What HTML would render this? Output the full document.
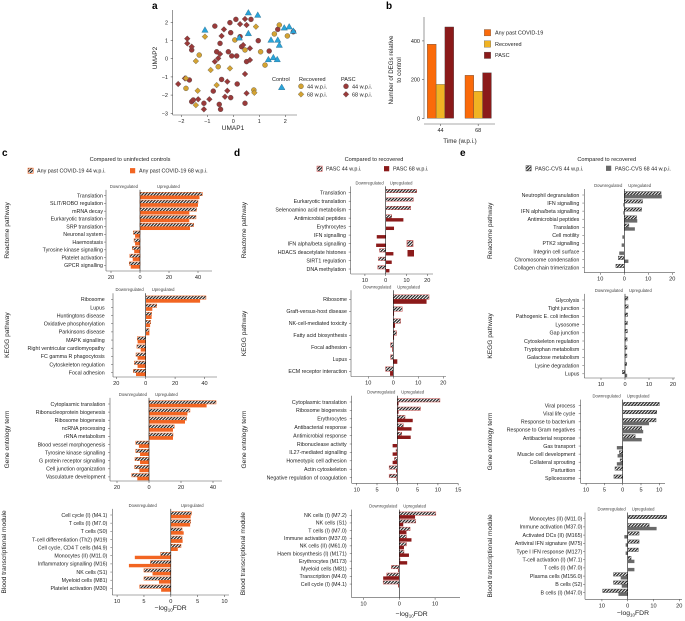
<!DOCTYPE html>
<html><head><meta charset="utf-8">
<style>
body{margin:0;background:#fff;}
svg{display:block;font-family:"Liberation Sans",sans-serif;}
</style></head>
<body>
<svg id="fig" width="685" height="621" viewBox="0 0 685 621" xmlns="http://www.w3.org/2000/svg">
<defs>
<pattern id="hatch" patternUnits="userSpaceOnUse" width="2.2" height="2.2" patternTransform="rotate(45)">
<rect width="2.2" height="2.2" fill="#fff"/><line x1="0.6" y1="0" x2="0.6" y2="2.2" stroke="#222" stroke-width="1.2"/>
</pattern>
</defs>
</svg>
<script>
// ---------- Panel a data (UMAP) ----------
const ctrlX=[0.58,0.94,-1.09,0.23,0.58,1.96,2.15,2.31,1.45,1.71,1.77,1.35,1.54,1.69];
const ctrlY=[2.53,2.40,1.58,1.15,1.39,1.70,1.76,1.52,1.03,1.03,0.75,-0.04,0.07,-0.04];
const rec44X=[1.77,1.58,2.08,-1.31,1.05,0.45,1.22,0.06,-0.58,0.79,-1.82];
const rec44Y=[1.85,1.36,1.25,0.20,0.38,0.48,-0.35,1.03,-0.44,-1.72,-1.63];
const rec68X=[0.87,-1.09,-1.44,-1.82,-0.87,-0.64,-1.44,-1.37,-0.13,0.81];
const rec68Y=[1.76,1.21,-0.13,-1.08,-0.62,-1.45,-2.55,-1.76,-0.53,-1.87];
const pasc44X=[0.10,0.68,-0.13,-0.71,-0.10,0.26,0.96,-0.51,-1.60,0.32,-0.19,-0.64,-0.06,0.13,0.51,1.38,2.31,1.71,-0.45,-1.69,0.15,-0.77,-0.10,-1.60,-1.54,-0.54,-0.49,0.45,-1.13];
const pasc44Y=[2.16,2.16,1.98,1.79,1.43,1.21,0.99,0.84,0.48,0.66,0.38,0.38,0.15,0.15,-0.16,0.42,1.48,1.61,-1.14,-1.17,-1.39,-1.78,-2.14,-2.36,-2.27,-2.51,-2.78,-2.45,-2.45];
const pasc68X=[0.45,0.26,0.51,-0.36,-0.45,-1.77,-1.77,-1.60,0.38,0.64,-0.51,-0.58,-0.71,0.64,0.45,-0.23,-1.86,-2.12,-0.23,-0.32,0.51,-0.92,-1.13,-1.35];
const pasc68Y=[2.18,1.90,1.85,1.61,1.25,1.10,0.84,0.66,0.75,0.57,0.26,0.02,-0.16,-0.07,-0.84,-1.26,-1.08,-1.39,-1.76,-2.09,-1.90,-2.23,-2.78,-2.23];
const umapXTicks=[-2,-1,0,1,2];
const umapYTicks=[2,1,0,-1,-2,-3];
// ---------- Panel b data ----------
const degTimes=["44","68"];
const degAny=[383,222];
const degRec=[175,140];
const degPasc=[472,235];
const degTicks=[0,200,400];
// ---------- Panel c data ----------
const cRLabels=["Translation","SLIT/ROBO regulation","mRNA decay","Eurkaryotic translation","SRP translation","Neuronal system","Haemostasis","Tyrosine kinase signalling","Platelet activation","GPCR signalling"];
const cR44=[43,40,39,38.6,37,-4.6,-4.1,-5.3,-7,-7.4];
const cR68=[41,40,34,34,34.5,-3.4,-3.4,-4,-5,-6.4];
const cRTicks=[-20,0,20,40];
const cKLabels=["Ribosome","Lupus","Huntingtons disease","Oxidative phosphorylation","Parkinsons disease","MAPK signalling","Right ventricular cardiomyopathy","FC gamma R phagocytosis","Cytoskeleton regulation","Focal adhesion"];
const cK44=[41,7.5,4,3.4,2.3,-5.7,-6,-6.6,-7.7,-8.4];
const cK68=[37,4.5,4,3,2.5,-5.5,-3.4,-5.5,-5.5,-6.6];
const cKTicks=[-20,0,20,40];
const cGLabels=["Cytoplasmic translation","Ribonucleoprotein biogenesis","Ribosome biogenesis","ncRNA processing","rRNA metabolism","Blood vessel morphogenesis","Tyrosine kinase signalling","G protein receptor signalling","Cell junction organization","Vasculature development"];
const cG44=[41.9,25.6,23.5,15.8,15,-8.3,-8.3,-8.75,-9,-10.8];
const cG68=[36,24,22.5,15,15,-6.3,-5.6,-5.6,-6,-7.3];
const cGTicks=[-20,0,20,40];
const cBLabels=["Cell cycle (I) (M4.1)","T cells (I) (M7.0)","T cells (S0)","T-cell differentiation (Th2) (M19)","Cell cycle, CD4 T cells (M4.9)","Monocytes (II) (M11.0)","Inflammatory signalling (M16)","NK cells (S1)","Myeloid cells (M81)","Platelet activation (M30)"];
const cB44=[3.85,3.7,2.1,2.1,1.9,-1.9,-3.8,-5,-5,-5.8];
const cB68=[3.7,3.6,2.4,2.2,1.3,-6.7,-7.8,-3.4,-2.2,-1.8];
const cBTicks=[-10,-5,0,5,10];
// ---------- Panel d data ----------
const dRLabels=["Translation","Eurkaryotic translation","Selenoamino acid metabolism","Antimicrobial peptides","Erythrocytes","IFN signalling","IFN alpha/beta signalling","HDACS deacetylate histones","SIRT1 regulation","DNA methylation"];
const dR44=[14.9,13.3,12,2.9,0,0,0,-3,-3.5,-3.8];
const dR68=[0,0,0,8.5,4,-4.3,-4.6,3.7,2.9,1.8];
const dRTicks=[-10,0,10,20];
const dKLabels=["Ribosome","Graft-versus-host disease","NK-cell-mediated toxicity","Fatty acid biosynthesis","Focal adhesion","Lupus","ECM receptor interaction"];
const dK44=[14.3,3.6,2.9,1.3,-1.1,-1.1,-3.1];
const dK68=[13.3,0.3,0.7,0.3,-0.4,1.6,-1.3];
const dKTicks=[-10,0,10,20];
const dGLabels=["Cytoplasmic translation","Ribosome biogenesis","Erythrocytes","Antibacterial response","Antimicrobial response","Ribonuclease activity","IL27-mediated signalling","Homeotypic cell adhesion","Actin cytoskeleton","Negative regulation of coagulation"];
const dG44=[10.5,5.7,1.9,1.5,1.1,0,-0.3,-0.7,-2,-2];
const dG68=[0.3,0.3,3.8,3.5,3.3,-1.15,-1.15,-1.15,-0.3,-0.2];
const dGTicks=[-10,-5,0,5,10,15];
const dBLabels=["NK cells (I) (M7.2)","NK cells (S1)","T cells (I) (M7.0)","Immune activation (M37.0)","NK cells (II) (M61.0)","Haem biosynthesis (I) (M171)","Erythrocytes (M173)","Myeloid cells (M81)","Transcription (M4.0)","Cell cycle (I) (M4.1)"];
const dB44=[10.2,4.6,3,2,2,1.3,0.2,-2.2,-3.5,-4.5];
const dB68=[4.4,1.1,2,3.4,1.3,2.7,2.2,-0.3,-4.5,-0.3];
const dBTicks=[-10,0,10];
// ---------- Panel e data ----------
const eRLabels=["Neutrophil degranulation","IFN signalling","IFN alpha/beta signalling","Antimicrobial peptides","Translation","Cell motility","PTK2 signalling","Integrin cell surface","Chromosome condensation","Collagen chain trimerization"];
const eR44=[15.3,7.6,7.2,5.1,1.9,0,0,0,-2.5,-3.5];
const eR68=[15.6,-0.4,-0.4,5.4,4.4,-0.8,-1.1,-2.1,1.7,0];
const eRTicks=[-10,0,10,20];
const eKLabels=["Glycolysis","Tight junction","Pathogenic E. coli infection","Lysosome","Gap junction","Cytoskeleton regulation","Tryptophan metabolism","Galactose metabolism","Lysine degradation","Lupus"];
const eK44=[1.2,1.3,1.1,1,1,0.9,0.8,0.8,0.7,-1.1];
const eK68=[0.1,0.1,0.1,0.1,0.1,0.1,0.1,0.1,0.1,0.9];
const eKTicks=[-10,0,10,20];
const eGLabels=["Viral process","Viral life cycle","Response to bacterium","Response to Gram negatives","Antibacterial response","Gas transport","Muscle cell development","Collateral sprouting","Parturition","Spliceosome"];
const eG44=[10,9.3,9.1,5.2,3.4,0,-0.9,-0.7,-2.1,-2.4];
const eG68=[0,0,7.2,5.6,5.2,-1.6,-1.4,-1.6,0,0];
const eGTicks=[-10,-5,0,5,10];
const eBLabels=["Monocytes (II) (M11.0)","Immune activation (M37.0)","Activated DCs (II) (M165)","Antiviral IFN signature (M75)","Type I IFN response (M127)","T-cell activation (I) (M7.1)","T cells (I) (M7.0)","Plasma cells (M156.0)","B cells (S2)","B cells (I) (M47.0)"];
const eB44=[15.1,8.3,4.4,4.4,4.1,1.3,0,-5.5,-5.5,-9.7];
const eB68=[0,11.2,-1.3,-0.8,-0.8,2.6,2.6,-2.7,-2.3,-3.6];
const eBTicks=[-10,0,10,20];

const NS="http://www.w3.org/2000/svg";
const svg=document.getElementById('fig');
function mk(tag,attrs,parent){const e=document.createElementNS(NS,tag);for(const k in attrs)e.setAttribute(k,attrs[k]);(parent||svg).appendChild(e);return e;}
function txt(s,x,y,size,opts,parent){const e=mk('text',Object.assign({x:x,y:y,'font-size':size,fill:'#222'},opts||{}),parent);e.textContent=s;return e;}

// ---------- Panel letters & titles ----------
[["a",152,9],["b",386,9],["c",2,156],["d",234,156],["e",460,156]].forEach(p=>{
  const t=txt(p[0],p[1],p[2],10,{'font-weight':'bold',fill:'#000'});
  
  
});

// ---------- Panel a ----------
const gA=mk('g',{});


const ax0=233.3, axs=26, ay0=58.7, ays=18.2;
const ux=v=>ax0+v*axs, uy=v=>ay0-v*ays;
mk('line',{x1:172.7,y1:10,x2:172.7,y2:115,stroke:'#555','stroke-width':0.6},gA);
mk('line',{x1:172.7,y1:115,x2:297,y2:115,stroke:'#555','stroke-width':0.6},gA);
umapXTicks.forEach(t=>{mk('line',{x1:ux(t),y1:115,x2:ux(t),y2:117,stroke:'#555','stroke-width':0.6},gA);const e=txt(String(t).replace('-','−'),ux(t),123,5.5,{'text-anchor':'middle'},gA);});
umapYTicks.forEach(t=>{mk('line',{x1:170.7,y1:uy(t),x2:172.7,y2:uy(t),stroke:'#555','stroke-width':0.6},gA);const e=txt(String(t).replace('-','−'),168,uy(t)+2,5.5,{'text-anchor':'end'},gA);});
const ax1=txt("UMAP1",233,130,6.5,{'text-anchor':'middle'},gA);

const ax2=txt("UMAP2",0,0,6.5,{'text-anchor':'middle',transform:'translate(157,58) rotate(-90)'},gA);

function circ(x,y,fill,name){const c=mk('circle',{cx:x,cy:y,r:2.5,fill:fill,stroke:'#444','stroke-width':0.35},gA);}
function diam(x,y,fill,name){const r=2.9;const c=mk('polygon',{points:`${x},${y-r} ${x+r},${y} ${x},${y+r} ${x-r},${y}`,fill:fill,stroke:'#444','stroke-width':0.35},gA);}
function tri(x,y,name){const c=mk('polygon',{points:`${x},${y-3.2} ${x+3.2},${y+2.4} ${x-3.2},${y+2.4}`,fill:'#2aa3d8',stroke:'#1d5f80','stroke-width':0.35},gA);}
const GOLD='#d4a332', RED='#9a3a3a';
pasc44X.forEach((v,i)=>circ(ux(v),uy(pasc44Y[i]),RED,'pasc-44-point'));
pasc68X.forEach((v,i)=>diam(ux(v),uy(pasc68Y[i]),RED,'pasc-68-point'));
rec44X.forEach((v,i)=>circ(ux(v),uy(rec44Y[i]),GOLD,'recovered-44-point'));
rec68X.forEach((v,i)=>diam(ux(v),uy(rec68Y[i]),GOLD,'recovered-68-point'));
ctrlX.forEach((v,i)=>tri(ux(v),uy(ctrlY[i]),'control-point'));
// legend a
const la=mk('g',{});
txt("Control",272,81,5.5,{},la);txt("Recovered",299,81,5.5,{},la);txt("PASC",341,81,5.5,{},la);
mk('polygon',{points:"281.7,84 285,89.7 278.4,89.7",fill:'#2aa3d8',stroke:'#1d5f80','stroke-width':0.35},la);
mk('circle',{cx:301,cy:86.3,r:2.5,fill:GOLD,stroke:'#444','stroke-width':0.35},la);
mk('polygon',{points:"301,91.4 303.9,94.3 301,97.2 298.1,94.3",fill:GOLD,stroke:'#444','stroke-width':0.35},la);
txt("44 w.p.i.",307,88.3,5.5,{},la);txt("68 w.p.i.",307,96.3,5.5,{},la);
mk('circle',{cx:346,cy:86.3,r:2.5,fill:RED,stroke:'#444','stroke-width':0.35},la);
mk('polygon',{points:"346,91.4 348.9,94.3 346,97.2 343.1,94.3",fill:RED,stroke:'#444','stroke-width':0.35},la);
txt("44 w.p.i.",352,88.3,5.5,{},la);txt("68 w.p.i.",352,96.3,5.5,{},la);

// ---------- Panel b ----------
const gB=mk('g',{});
const by0=118.3, bys=38.7/200;
const byp=v=>by0-v*bys;
mk('line',{x1:424,y1:17,x2:424,y2:119,stroke:'#555','stroke-width':0.6},gB);
mk('line',{x1:424,y1:124,x2:495,y2:124,stroke:'#555','stroke-width':0.6},gB);
degTicks.forEach(t=>{mk('line',{x1:422,y1:byp(t),x2:424,y2:byp(t),stroke:'#555','stroke-width':0.6},gB);const e=txt(String(t),420,byp(t)+2,5.5,{'text-anchor':'end'},gB);});
const groupX=[427.3,465];const bw=8.8;
const bcols=['#fa6a0a','#f0b323','#8b1a1a'];
[degAny,degRec,degPasc].forEach((ser,si)=>{
  ser.forEach((v,gi)=>{
    const r=mk('rect',{x:groupX[gi]+si*bw,y:byp(v),width:bw,height:by0-byp(v),fill:bcols[si],stroke:'#444','stroke-width':0.35},gB);
    
    
  });
});
degTimes.forEach((t,gi)=>{const cx=groupX[gi]+1.5*bw;mk('line',{x1:cx,y1:124,x2:cx,y2:126,stroke:'#555','stroke-width':0.6},gB);const e=txt(t,cx,132,5.5,{'text-anchor':'middle'},gB);});
const bt=txt("Time (w.p.i.)",460,143,6.2,{'text-anchor':'middle'},gB);
const byl=txt("Number of DEGs relative",0,0,6.2,{'text-anchor':'middle',transform:'translate(393,70) rotate(-90)'},gB);
txt("to control",0,0,6.2,{'text-anchor':'middle',transform:'translate(401,70) rotate(-90)'},gB);
const lb=mk('g',{},gB);
["Any past COVID-19","Recovered","PASC"].forEach((s,i)=>{const y=29.5+i*11.3;mk('rect',{x:484.3,y:y,width:6.4,height:6.4,fill:bcols[i],stroke:'#444','stroke-width':0.3},lb);txt(s,495,y+5,5.5,{},lb);});

// ---------- Bar panels c,d,e ----------
function barPanel(name,cfg,labels,v44,v68,ticks){
  const g=mk('g',{});
  
  
  const X=v=>cfg.zero+v*cfg.scale;
  const bh=cfg.bh||3.4;
  const top=cfg.y1-cfg.dy*0.75;
  mk('line',{x1:cfg.axL,y1:top,x2:cfg.axL,y2:cfg.axB,stroke:'#555','stroke-width':0.6},g);
  mk('line',{x1:cfg.axL,y1:cfg.axB,x2:cfg.axR,y2:cfg.axB,stroke:'#555','stroke-width':0.6},g);
  labels.forEach((lab,i)=>{
    const yc=cfg.y1+i*cfg.dy;
    mk('line',{x1:cfg.axL-2,y1:yc,x2:cfg.axL,y2:yc,stroke:'#555','stroke-width':0.5},g);
    const t=txt(lab,cfg.labEnd,yc+1.8,5.3,{'text-anchor':'end'},g);
    
    
    const a=v44[i], b=v68[i];
    const r1=mk('rect',{x:Math.min(X(0),X(a)),y:yc-bh,width:Math.abs(X(a)-X(0)),height:bh,fill:'url(#hatch)',stroke:cfg.hs,'stroke-width':0.5},g);
    
    
    const r2=mk('rect',{x:Math.min(X(0),X(b)),y:yc,width:Math.abs(X(b)-X(0)),height:bh,fill:cfg.col},g);
    
    
  });
  mk('line',{x1:X(0),y1:top,x2:X(0),y2:cfg.axB,stroke:'#111','stroke-width':0.6},g);
  ticks.forEach(t=>{
    mk('line',{x1:X(t),y1:cfg.axB,x2:X(t),y2:cfg.axB+2,stroke:'#555','stroke-width':0.6},g);
    const e=txt(String(Math.abs(t)),X(t),cfg.axB+8,5.6,{'text-anchor':'middle'},g);
    
    
  });
  const dl=txt("Downregulated",X(0)-(cfg.dOff||2),top-2,4.2,{'text-anchor':'end',fill:'#444'},g);
  
  const ul=txt("Upregulated",X(0)+(cfg.uOff||4),top-2,4.2,{fill:'#444'},g);
  
  const gl=txt(cfg.group,0,0,6.6,{'text-anchor':'middle',transform:`translate(${cfg.gx},${(top+cfg.axB)/2}) rotate(-90)`},g);
  
  return g;
}
const OR='#f26522', DR='#8b1a1a', GR='#6a6a6a';
barPanel('c-reactome-chart',{zero:140,scale:1.45,y1:195.7,dy:7.73,axL:106,axB:271,axR:212,labEnd:103,hs:OR,col:OR,group:'Reactome pathway',gx:9,uOff:17},cRLabels,cR44,cR68,cRTicks);
barPanel('c-kegg-chart',{zero:145.7,scale:1.47,y1:299.3,dy:8.15,axL:113,axB:377,axR:217,labEnd:104.7,hs:OR,col:OR,group:'KEGG pathway',gx:9,uOff:6},cKLabels,cK44,cK68,cKTicks);
barPanel('c-go-chart',{zero:149,scale:1.6,y1:404,dy:8.1,axL:110,axB:481,axR:222,labEnd:105.3,hs:OR,col:OR,group:'Gene ontology term',gx:9,uOff:6},cGLabels,cG44,cG68,cGTicks);
barPanel('c-btm-chart',{zero:170.8,scale:5.37,y1:515,dy:8.15,axL:112.3,axB:595,axR:229,labEnd:107.3,hs:OR,col:OR,group:'Blood transcriptional module',gx:6,dOff:14,uOff:10},cBLabels,cB44,cB68,cBTicks);
barPanel('d-reactome-chart',{zero:385.7,scale:2.08,y1:192.7,dy:8.48,axL:350.7,axB:274,axR:433,labEnd:346,hs:'#c9504f',col:DR,group:'Reactome pathway',gx:246},dRLabels,dR44,dR68,dRTicks);
barPanel('d-kegg-chart',{zero:393.3,scale:2.5,y1:299.3,dy:12,bh:4.5,axL:351,axB:376.5,axR:446,labEnd:347,hs:'#c9504f',col:DR,group:'KEGG pathway',gx:246},dKLabels,dK44,dK68,dKTicks);
barPanel('d-go-chart',{zero:397.3,scale:4.06,y1:402,dy:8.4,axL:351.7,axB:483.3,axR:458,labEnd:346.7,hs:'#c9504f',col:DR,group:'Gene ontology term',gx:246},dGLabels,dG44,dG68,dGTicks);
barPanel('d-btm-chart',{zero:399.3,scale:3.58,y1:515.3,dy:7.64,axL:351.7,axB:597.7,axR:460,labEnd:346.7,hs:'#c9504f',col:DR,group:'Blood transcriptional module',gx:245},dBLabels,dB44,dB68,dBTicks);
barPanel('e-reactome-chart',{zero:624.3,scale:2.4,y1:195,dy:8.07,axL:584.3,axB:272.7,axR:675,labEnd:579.3,hs:'#555',col:GR,group:'Reactome pathway',gx:492},eRLabels,eR44,eR68,eRTicks);
barPanel('e-kegg-chart',{zero:625,scale:2.4,y1:300,dy:8.2,axL:584.3,axB:378,axR:675,labEnd:579.3,hs:'#555',col:GR,group:'KEGG pathway',gx:492},eKLabels,eK44,eK68,eKTicks);
barPanel('e-go-chart',{zero:622.7,scale:3.66,y1:405.7,dy:8.07,axL:580.7,axB:483.3,axR:665,labEnd:575.3,hs:'#555',col:GR,group:'Gene ontology term',gx:492},eGLabels,eG44,eG68,eGTicks);
barPanel('e-btm-chart',{zero:627.7,scale:2.58,y1:518.7,dy:8.2,axL:585,axB:599.3,axR:682,labEnd:582.3,hs:'#555',col:GR,group:'Blood transcriptional module',gx:492},eBLabels,eB44,eB68,eBTicks);

// x-axis titles
[[170.7,610],[411.7,616],[633,615]].forEach(p=>{
  const t=mk('text',{x:p[0],y:p[1],'font-size':6.8,'text-anchor':'middle',fill:'#222'});
  
  
  t.innerHTML='−log<tspan font-size="4.5" dy="1.5">10</tspan><tspan dy="-1.5">FDR</tspan>';
});

// headers and legends c,d,e
function header(name,cx,title,lx1,t1,lx2,t2,ly,hs,col){
  const g=mk('g',{});
  
  
  txt(title,cx,161,5.6,{'text-anchor':'middle'},g);
  mk('rect',{x:lx1,y:ly-2.6,width:5.2,height:5.2,fill:'url(#hatch)',stroke:hs,'stroke-width':0.6},g);
  txt(t1,lx1+9,ly+2,5.4,{},g);
  mk('rect',{x:lx2,y:ly-2.6,width:5.2,height:5.2,fill:col},g);
  txt(t2,lx2+9,ly+2,5.4,{},g);
}
header('c-legend',130,'Compared to uninfected controls',28,'Any past COVID-19 44 w.p.i.',130,'Any past COVID-19 68 w.p.i.',170.7,OR,OR);
header('d-legend',374,'Compared to recovered',317,'PASC 44 w.p.i.',384,'PASC 68 w.p.i.',168.7,'#c9504f',DR);
header('e-legend',606.7,'Compared to recovered',526,'PASC-CVS 44 w.p.i.',606,'PASC-CVS 68 44 w.p.i.',168.3,'#555',GR);
// stray squares in panel d
const s1=mk('rect',{x:407,y:240.5,width:6,height:6,fill:'url(#hatch)',stroke:'#c9504f','stroke-width':0.7});

const s2=mk('rect',{x:407.5,y:250,width:6.5,height:6.5,fill:DR});

</script>
</body></html>
